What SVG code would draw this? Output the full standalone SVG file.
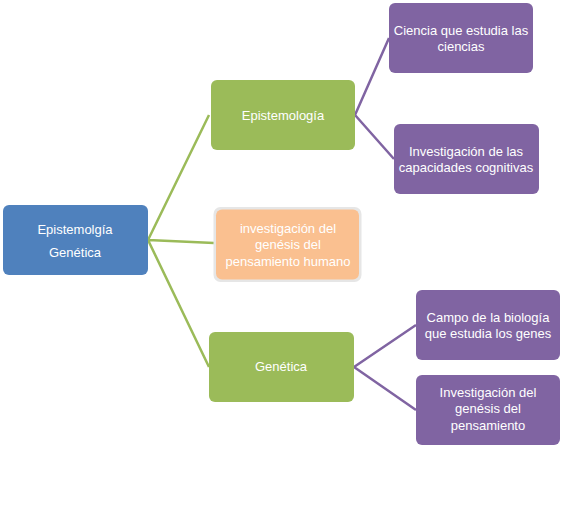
<svg xmlns="http://www.w3.org/2000/svg" width="563" height="522" viewBox="0 0 563 522">
<style>
text{font-family:"Liberation Sans",Arial,sans-serif;font-size:13px;fill:#fff;text-anchor:middle;dominant-baseline:central}
.blue{fill:#4f81bd}
.green{fill:#9bbb59}
.purple{fill:#8064a2}
.orange{fill:#fac090}
.gl{stroke:#9bbb59;stroke-width:2.5;fill:none}
.pl{stroke:#8064a2;stroke-width:2.5;fill:none}
</style>
<rect width="563" height="522" fill="#fff"/>
<g id="connectors">
<path class="gl" d="M148,240 L209,115 M148,240 L214,243 M148,240 L209,367"/>
<path class="pl" d="M355,115 L389,38 M355,115 L394,159 M354,367 L416,325 M354,367 L416,410"/>
</g>
<g id="root">
<rect class="blue" x="3" y="205" width="145" height="70" rx="6"/>
<text x="75" y="229">Epistemolgía</text>
<text x="75" y="252">Genética</text>
</g>
<g id="epistemologia">
<rect class="green" x="211" y="80" width="144" height="70" rx="6"/>
<text x="283" y="115">Epistemología</text>
</g>
<g id="investigacion">
<rect x="213.5" y="207" width="148" height="75" rx="7" fill="#e6e6e6"/>
<rect class="orange" x="216" y="209.5" width="143" height="70" rx="6"/>
<text x="288" y="228">investigación del</text>
<text x="288" y="244">genésis del</text>
<text x="288" y="261">pensamiento humano</text>
</g>
<g id="genetica">
<rect class="green" x="209" y="332" width="145" height="70" rx="6"/>
<text x="281" y="366">Genética</text>
</g>
<g id="ciencia">
<rect class="purple" x="389" y="3" width="144" height="70" rx="6"/>
<text x="461" y="30">Ciencia que estudia las</text>
<text x="461" y="46">ciencias</text>
</g>
<g id="capacidades">
<rect class="purple" x="394" y="124" width="145" height="70" rx="6"/>
<text x="466" y="151">Investigación de las</text>
<text x="466" y="167">capacidades cognitivas</text>
</g>
<g id="campo">
<rect class="purple" x="416" y="290" width="144" height="70" rx="6"/>
<text x="488" y="317">Campo de la biología</text>
<text x="488" y="333">que estudia los genes</text>
</g>
<g id="genesis">
<rect class="purple" x="416" y="375" width="144" height="70" rx="6"/>
<text x="488" y="392">Investigación del</text>
<text x="488" y="408">genésis del</text>
<text x="488" y="425">pensamiento</text>
</g>
</svg>
